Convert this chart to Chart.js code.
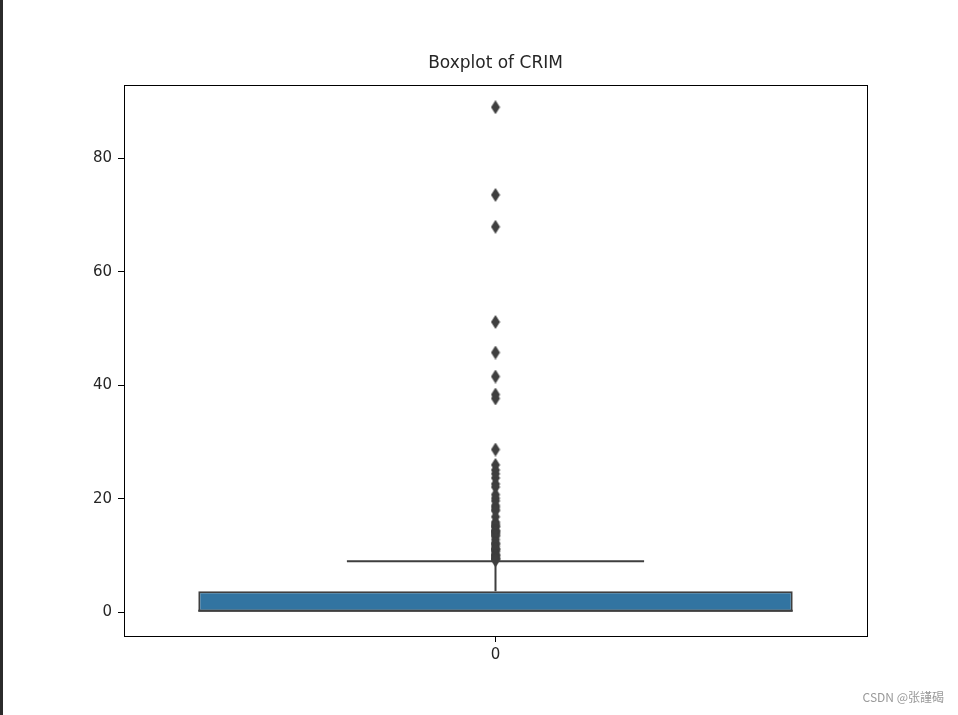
<!DOCTYPE html>
<html>
<head>
<meta charset="utf-8">
<script src="https://cdn.jsdelivr.net/npm/chart.js@4"></script>
<style>
  body { margin: 0; background: #fff; }
  #wrap { width: 958px; height: 715px; }
</style>
</head>
<body>
<div id="wrap"><canvas id="myChart" width="958" height="715"></canvas></div>
<script>
// box statistics for CRIM
var categories = ["0"];
var q1 = 0.08;
var median = 0.26;
var q3 = 3.68;
var whiskerHigh = 8.98;
var outliers = [88.98, 73.53, 67.92, 51.14, 45.75, 41.53, 38.35, 37.66, 28.66, 25.95,
  25.05, 24.39, 23.65, 22.6, 22.05, 20.72, 20.08, 19.61, 18.81, 18.5, 18.08, 17.87,
  16.81, 15.88, 15.58, 15.29, 15.1, 15.02, 14.43, 14.33, 14.24, 14.05, 13.92, 13.68,
  13.52, 13.36, 12.8, 12.25, 12.05, 11.95, 11.58, 11.16, 11.11, 11.08, 10.83, 10.67,
  10.23, 10.06, 9.97, 9.92, 9.59, 9.52, 9.39, 9.33, 9.19];
var yTicks = [0, 20, 40, 60, 80];

var edge = "#3f3f3f";

// thin diamond marker like matplotlib 'd'
var diamond = document.createElement("canvas");
diamond.width = 10;
diamond.height = 14;
var dc = diamond.getContext("2d");
dc.fillStyle = edge;
dc.beginPath();
dc.moveTo(5, 0);
dc.lineTo(9.5, 7);
dc.lineTo(5, 14);
dc.lineTo(0.5, 7);
dc.closePath();
dc.fill();

var boxExtras = {
  id: "boxExtras",
  beforeDraw(chart) {
    var c = chart.ctx;
    c.save();
    c.fillStyle = "#fff";
    c.fillRect(0, 0, chart.width, chart.height);
    c.fillStyle = "#2b2b2b";
    c.fillRect(0, 0, 3, chart.height);
    c.restore();
  },
  afterDatasetsDraw(chart) {
    var c = chart.ctx, x = chart.scales.x, y = chart.scales.y, a = chart.chartArea;
    var cx = x.getPixelForValue(0);
    var bar = chart.getDatasetMeta(0).data[0];
    var half = bar.width / 2;
    c.save();
    c.strokeStyle = edge;
    c.lineWidth = 2;
    c.beginPath();
    c.moveTo(cx - half, y.getPixelForValue(median));
    c.lineTo(cx + half, y.getPixelForValue(median));
    c.moveTo(cx, y.getPixelForValue(q3));
    c.lineTo(cx, y.getPixelForValue(whiskerHigh));
    c.moveTo(cx - half / 2, y.getPixelForValue(whiskerHigh));
    c.lineTo(cx + half / 2, y.getPixelForValue(whiskerHigh));
    c.stroke();
    // frame
    c.strokeStyle = "#000";
    c.lineWidth = 1;
    c.strokeRect(a.left + 0.5, a.top + 0.5, a.right - a.left, a.bottom - a.top);
    // title centred over the axes
    c.fillStyle = "#262626";
    c.font = "17px 'DejaVu Sans'";
    c.textAlign = "center";
    c.textBaseline = "alphabetic";
    c.fillText("Boxplot of CRIM", (a.left + a.right) / 2, 68);
    // watermark
    c.fillStyle = "#999";
    c.font = "12px 'Noto Sans CJK SC'";
    c.textAlign = "right";
    c.fillText("CSDN @张謹碣", 944, 702);
    c.restore();
  },
};

var ctx = document.getElementById("myChart").getContext("2d");
var newChart = new Chart(ctx, {
  type: "bar",
  data: {
    labels: categories,
    datasets: [
      {
        type: "bar",
        data: [[q1, q3]],
        backgroundColor: "#3274a1",
        borderColor: edge,
        borderWidth: 2,
        borderSkipped: false,
        barPercentage: 0.8,
        categoryPercentage: 1,
      },
      {
        type: "scatter",
        data: outliers.map((v) => ({ x: "0", y: v })),
        pointStyle: diamond,
      },
    ],
  },
  options: {
    responsive: false,
    animation: false,
    layout: { padding: { left: 0, right: 91, top: 85, bottom: 0 } },
    plugins: {
      legend: { display: false },
      tooltip: { enabled: false },
      title: { display: false },
    },
    scales: {
      x: {
        type: "category",
        offset: true,
        grid: { drawOnChartArea: false, offset: false, tickLength: 6, color: "#000" },
        border: { display: false },
        ticks: { color: "#262626", font: { family: "DejaVu Sans", size: 15 }, padding: 4 },
        afterFit: (s) => { s.height = 79; },
      },
      y: {
        min: -4.2,
        max: 92.9,
        afterBuildTicks: (s) => { s.ticks = yTicks.map((v) => ({ value: v })); },
        grid: { drawOnChartArea: false, tickLength: 6, color: "#000" },
        border: { display: false },
        ticks: { color: "#262626", font: { family: "DejaVu Sans", size: 15 }, padding: 6 },
        afterFit: (s) => { s.width = 124; },
      },
    },
  },
  plugins: [boxExtras],
});
</script>
</body>
</html>
